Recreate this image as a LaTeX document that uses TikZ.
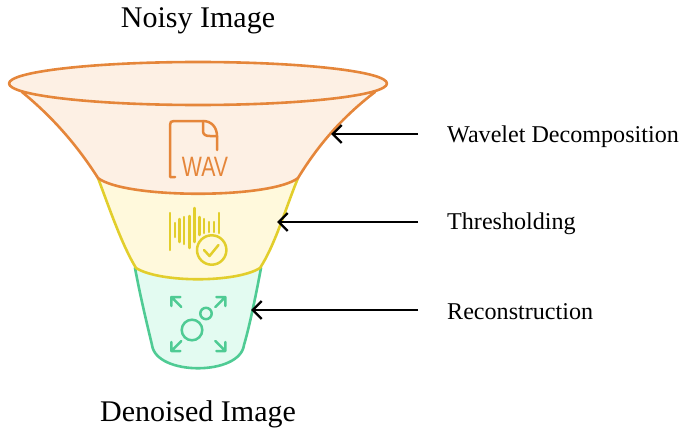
\documentclass[tikz,border=0pt]{standalone}
\usepackage{fontspec}
\setmainfont{Liberation Serif}
\newfontfamily\iconfont{Liberation Sans}
\usetikzlibrary{arrows.meta}

\definecolor{orangeline}{HTML}{E5863A}
\definecolor{orangefill}{HTML}{FDF0E4}
\definecolor{yellowline}{HTML}{E2CE2C}
\definecolor{yellowfill}{HTML}{FFF9DC}
\definecolor{greenline}{HTML}{4FCB94}
\definecolor{greenfill}{HTML}{E3FBF1}

\tikzset{
	title/.style={font=\fontsize{30}{36}\selectfont},
	label/.style={font=\fontsize{24.1}{29}\selectfont, anchor=west, inner sep=0pt},
	pointer/.style={-{Straight Barb[length=9pt,width=18pt,line width=2.4pt]}, line width=2.4pt, black},
	stage/.style={line width=2.6pt, line join=round},
	icon/.style={line width=2.5pt, line cap=round, line join=round}
}

\begin{document}
\begin{tikzpicture}[x=1pt, y=-1pt]
\useasboundingbox (0,0) rectangle (685,428);

\node[title] (N) at (198,21) {Noisy Image};
\node[title] (D) at (198,414) {Denoised Image};

% Embudo
\draw[stage, draw=greenline, fill=greenfill] (135,268) .. controls (141,300) and (148,328) .. (152,345)
	.. controls (156,376) and (240,376) .. (244,345) .. controls (249,328) and (255,300) .. (261,268) -- cycle;
\draw[stage, draw=yellowline, fill=yellowfill] (98,178) .. controls (110,210) and (122,245) .. (136,268)
	.. controls (160,283) and (236,283) .. (260,268) .. controls (275,245) and (285,210) .. (298,178) -- cycle;
\draw[stage, draw=orangeline, fill=orangefill] (22,92) .. controls (50,115) and (75,142) .. (98,178)
	.. controls (125,199) and (271,199) .. (298,178) .. controls (320,142) and (345,115) .. (375,92) -- cycle;
\draw[stage, draw=orangeline, fill=orangefill] (198,83.5) ellipse [x radius=189, y radius=21.5];

% Icono del archivo
\draw[icon, orangeline] (175,177) -- (170,177) -- (170,125) .. controls (170,122) and (171,121) .. (174,121) -- (203,121)
	.. controls (212,121) and (217,128) .. (217,136) -- (217,150);
\draw[icon, orangeline] (203,121) -- (203,131) .. controls (203,135) and (206,136) .. (210,136) -- (217,136);
\node[icon, orangeline, inner sep=0pt, font=\iconfont\fontsize{28}{28}\selectfont, xscale=.76, transform shape] (wav) at (205,167) {WAV};

% Icono de la onda
\foreach \x/\a/\b in {170/213/250, 175/223/237, 179.5/219/242, 184/217/244, 189.5/216/248, 194.7/208/242, 199.3/217/235, 204/219/233, 209/222/232, 214/222/232, 219/213/233}
	\draw[icon, yellowline] (\x,\a) -- (\x,\b);
\draw[icon, yellowline, fill=yellowfill] (211.7,250) circle (14.7);
\draw[icon, yellowline] (204,250) -- (209.5,256) -- (218.5,245);

% Icono de las flechas
\draw[icon, greenline] (192,330) circle (10.3);
\draw[icon, greenline] (206,313.5) circle (5.7);
\foreach \sx/\sy in {-1/-1, 1/-1, -1/1, 1/1}
	\draw[icon, greenline, shift={(198.3,324)}, xscale=\sx, yscale=\sy] (17,17) -- (27,27) (27,18) -- (27,27) -- (18,27);

% Flechas y textos
\coordinate (a1) at (418,134);
\coordinate (b1) at (331,134);
\coordinate (a2) at (418,222);
\coordinate (b2) at (277,222);
\coordinate (a3) at (418,310);
\coordinate (b3) at (251,310);
\foreach \i in {1,2,3}
	\draw[pointer] (a\i) -- (b\i);

\node[label] (L1) at (447,137) {Wavelet Decomposition};
\node[label] (L2) at (447,224) {Thresholding};
\node[label] (L3) at (447,312) {Reconstruction};
\end{tikzpicture}
\end{document}
